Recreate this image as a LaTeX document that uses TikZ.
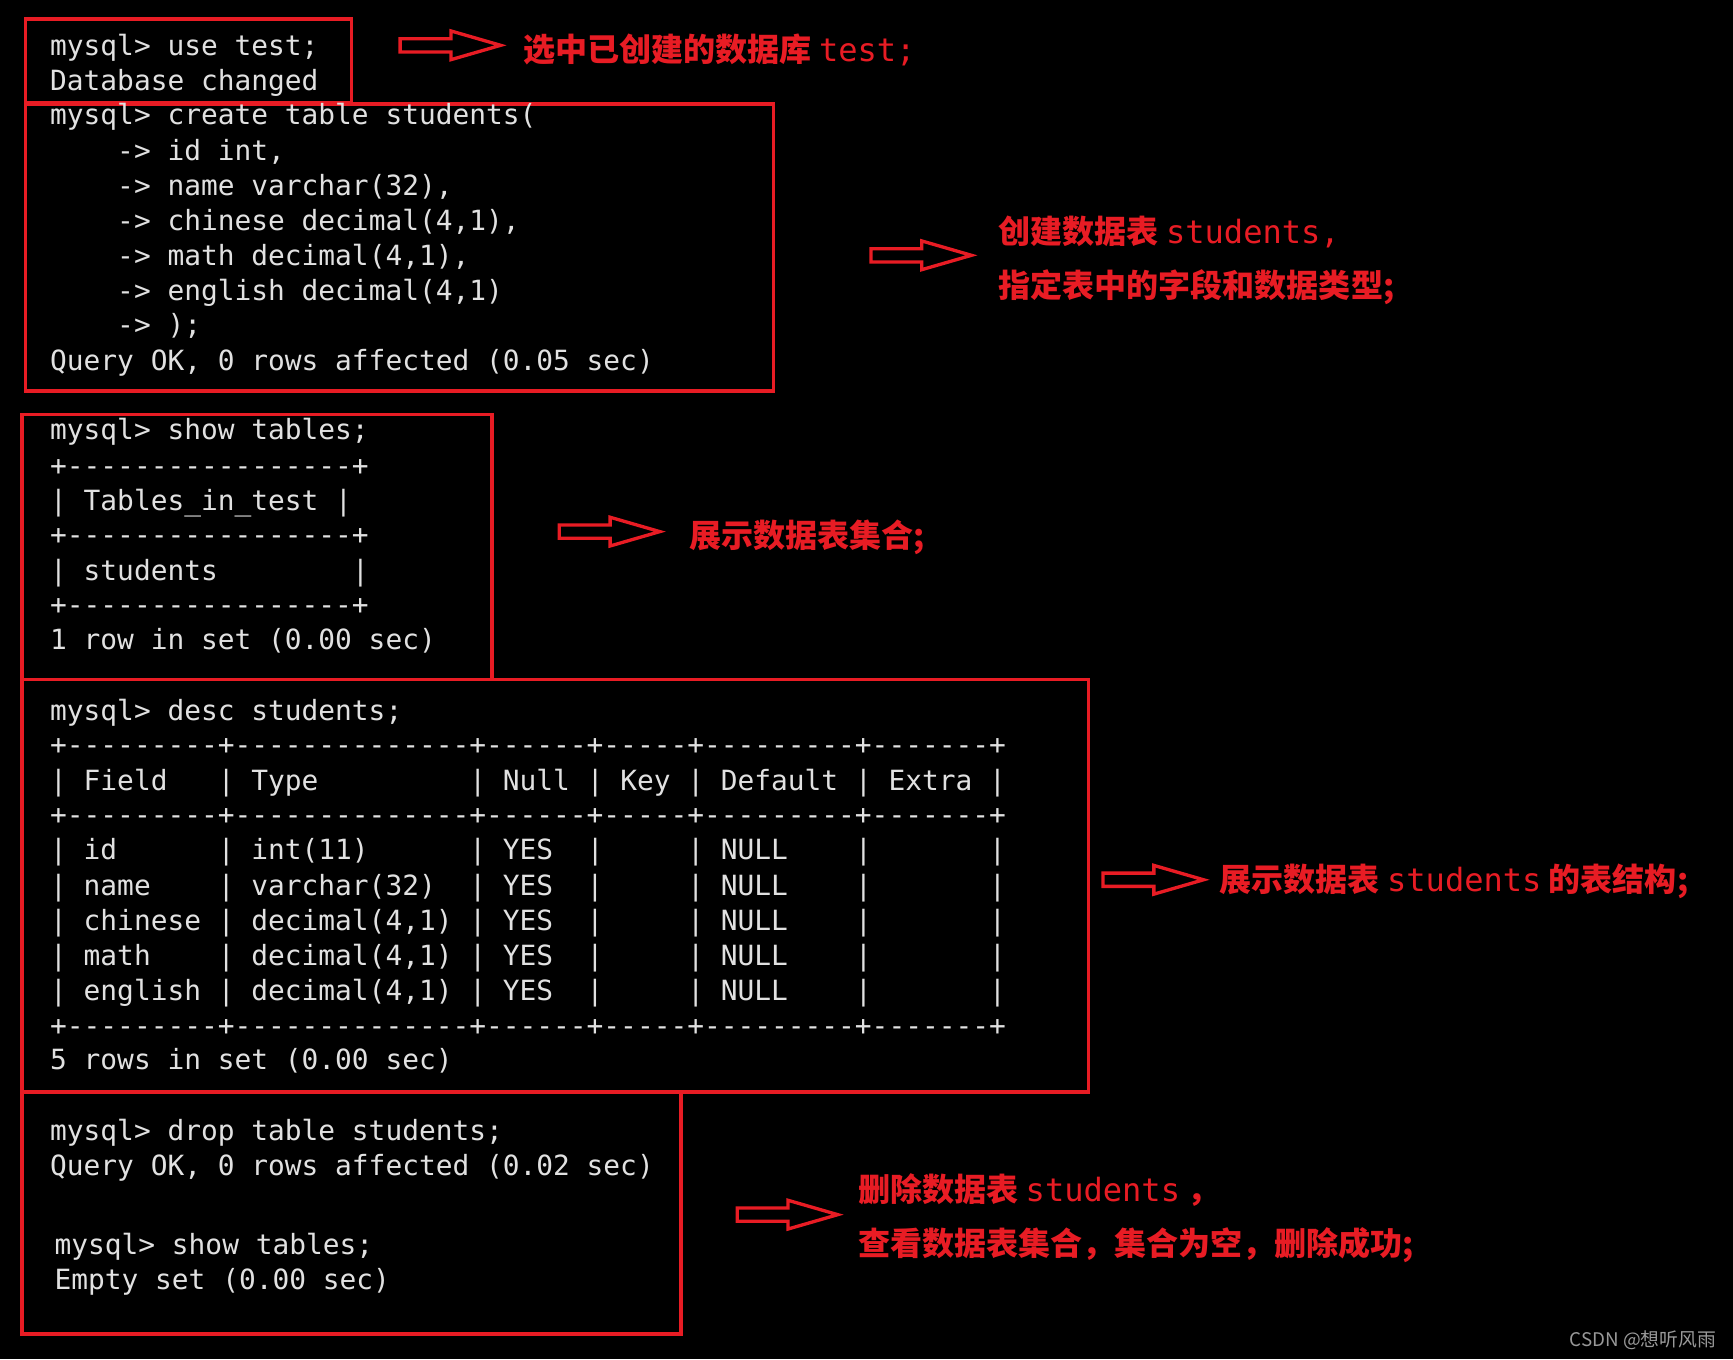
\documentclass[tikz,border=0pt]{standalone}
\usepackage{fontspec}
\newfontfamily\mono{DejaVu Sans Mono}
\newfontfamily\cjk{Noto Sans CJK SC}
\definecolor{rd}{RGB}{232,28,36}
\definecolor{tx}{RGB}{225,225,225}
\tikzset{ln/.style={anchor=base west,inner sep=0,text=tx,font=\mono\fontsize{12.6pt}{14pt}\selectfont},
 bx/.style={draw=rd,line width=1.6pt},
 lab/.style={anchor=base west,inner sep=0,text=rd,font=\cjk\bfseries\fontsize{14.5pt}{16pt}\selectfont},
 ba/.style={draw=rd,line width=1.5pt}}
\newcommand\Ln[3]{\node[ln] (#1) at (45,#2+5) {#3};}
\newcommand\BA[2]{\draw[ba] (#1,#2-6)--(#1+46,#2-6)--(#1+46,#2-13)--(#1+91,#2)--(#1+46,#2+13)--(#1+46,#2+6)--(#1,#2+6)--cycle;}
\begin{document}
\begin{tikzpicture}[x=0.5pt,y=-0.5pt]
\fill[black] (0,0) rectangle (1568,1230);
\useasboundingbox (0,0) rectangle (1568,1230);
\draw[bx] (23,17) rectangle (318,93);
\draw[bx] (23,94) rectangle (700,354);
\draw[bx] (20,375) rectangle (445,615);
\draw[bx] (20,615) rectangle (985,988);
\draw[bx] (20,988) rectangle (616,1207);
\Ln{a1}{45}{mysql> use test;}
\Ln{a2}{77}{Database changed}
\Ln{b1}{108}{mysql> create table students(}
\Ln{b2}{140}{\ \ \ \ -> id int,}
\Ln{b3}{172}{\ \ \ \ -> name varchar(32),}
\Ln{b4}{204}{\ \ \ \ -> chinese decimal(4,1),}
\Ln{b5}{235}{\ \ \ \ -> math decimal(4,1),}
\Ln{b6}{267}{\ \ \ \ -> english decimal(4,1)}
\Ln{b7}{298}{\ \ \ \ -> );}
\Ln{b8}{330}{Query OK, 0 rows affected (0.05 sec)}
\Ln{c1}{393}{mysql> show tables;}
\Ln{c2}{425}{+-----------------+}
\Ln{c3}{457}{| Tables\_in\_test |}
\Ln{c4}{488}{+-----------------+}
\Ln{c5}{520}{| students\ \ \ \ \ \ \ \ |}
\Ln{c6}{551}{+-----------------+}
\Ln{c7}{583}{1 row in set (0.00 sec)}
\Ln{d1}{647}{mysql> desc students;}
\Ln{d2}{678}{+---------+--------------+------+-----+---------+-------+}
\Ln{d3}{710}{| Field\ \ \ | Type\ \ \ \ \ \ \ \ \ | Null | Key | Default | Extra |}
\Ln{d4}{741}{+---------+--------------+------+-----+---------+-------+}
\Ln{d5}{773}{| id\ \ \ \ \ \ | int(11)\ \ \ \ \ \ | YES\ \ |\ \ \ \ \ | NULL\ \ \ \ |\ \ \ \ \ \ \ |}
\Ln{d6}{805}{| name\ \ \ \ | varchar(32)\ \ | YES\ \ |\ \ \ \ \ | NULL\ \ \ \ |\ \ \ \ \ \ \ |}
\Ln{d7}{837}{| chinese | decimal(4,1) | YES\ \ |\ \ \ \ \ | NULL\ \ \ \ |\ \ \ \ \ \ \ |}
\Ln{d8}{869}{| math\ \ \ \ | decimal(4,1) | YES\ \ |\ \ \ \ \ | NULL\ \ \ \ |\ \ \ \ \ \ \ |}
\Ln{d9}{900}{| english | decimal(4,1) | YES\ \ |\ \ \ \ \ | NULL\ \ \ \ |\ \ \ \ \ \ \ |}
\Ln{d10}{932}{+---------+--------------+------+-----+---------+-------+}
\Ln{d11}{963}{5 rows in set (0.00 sec)}
\Ln{e1}{1027}{mysql> drop table students;}
\Ln{e2}{1059}{Query OK, 0 rows affected (0.02 sec)}
\node[ln] (e3) at (49,1135) {mysql> show tables;};
\node[ln] (e4) at (49,1167) {Empty set (0.00 sec)};
\BA{362}{41}
\BA{788}{231}
\BA{506}{481}
\BA{998}{796}
\BA{667}{1099}
\node[lab] (t1) at (473,56) {选中已创建的数据库 {\mono\mdseries test;}};
\node[lab] (t2) at (903,220) {创建数据表 {\mono\mdseries students,}};
\node[lab] (t3) at (903,269) {指定表中的字段和数据类型;};
\node[lab] (t4) at (623,495) {展示数据表集合;};
\node[lab] (t5) at (1103,807) {展示数据表 {\mono\mdseries students} 的表结构;};
\node[lab] (t6) at (776,1087) {删除数据表 {\mono\mdseries students} ，};
\node[lab] (t7) at (776,1136) {查看数据表集合，集合为空，删除成功;};
\node[anchor=base east,inner sep=0,text=gray!80,font=\cjk\fontsize{8.5pt}{9pt}\selectfont] (wm) at (1553,1218) {CSDN @想听风雨};
\end{tikzpicture}
\end{document}
